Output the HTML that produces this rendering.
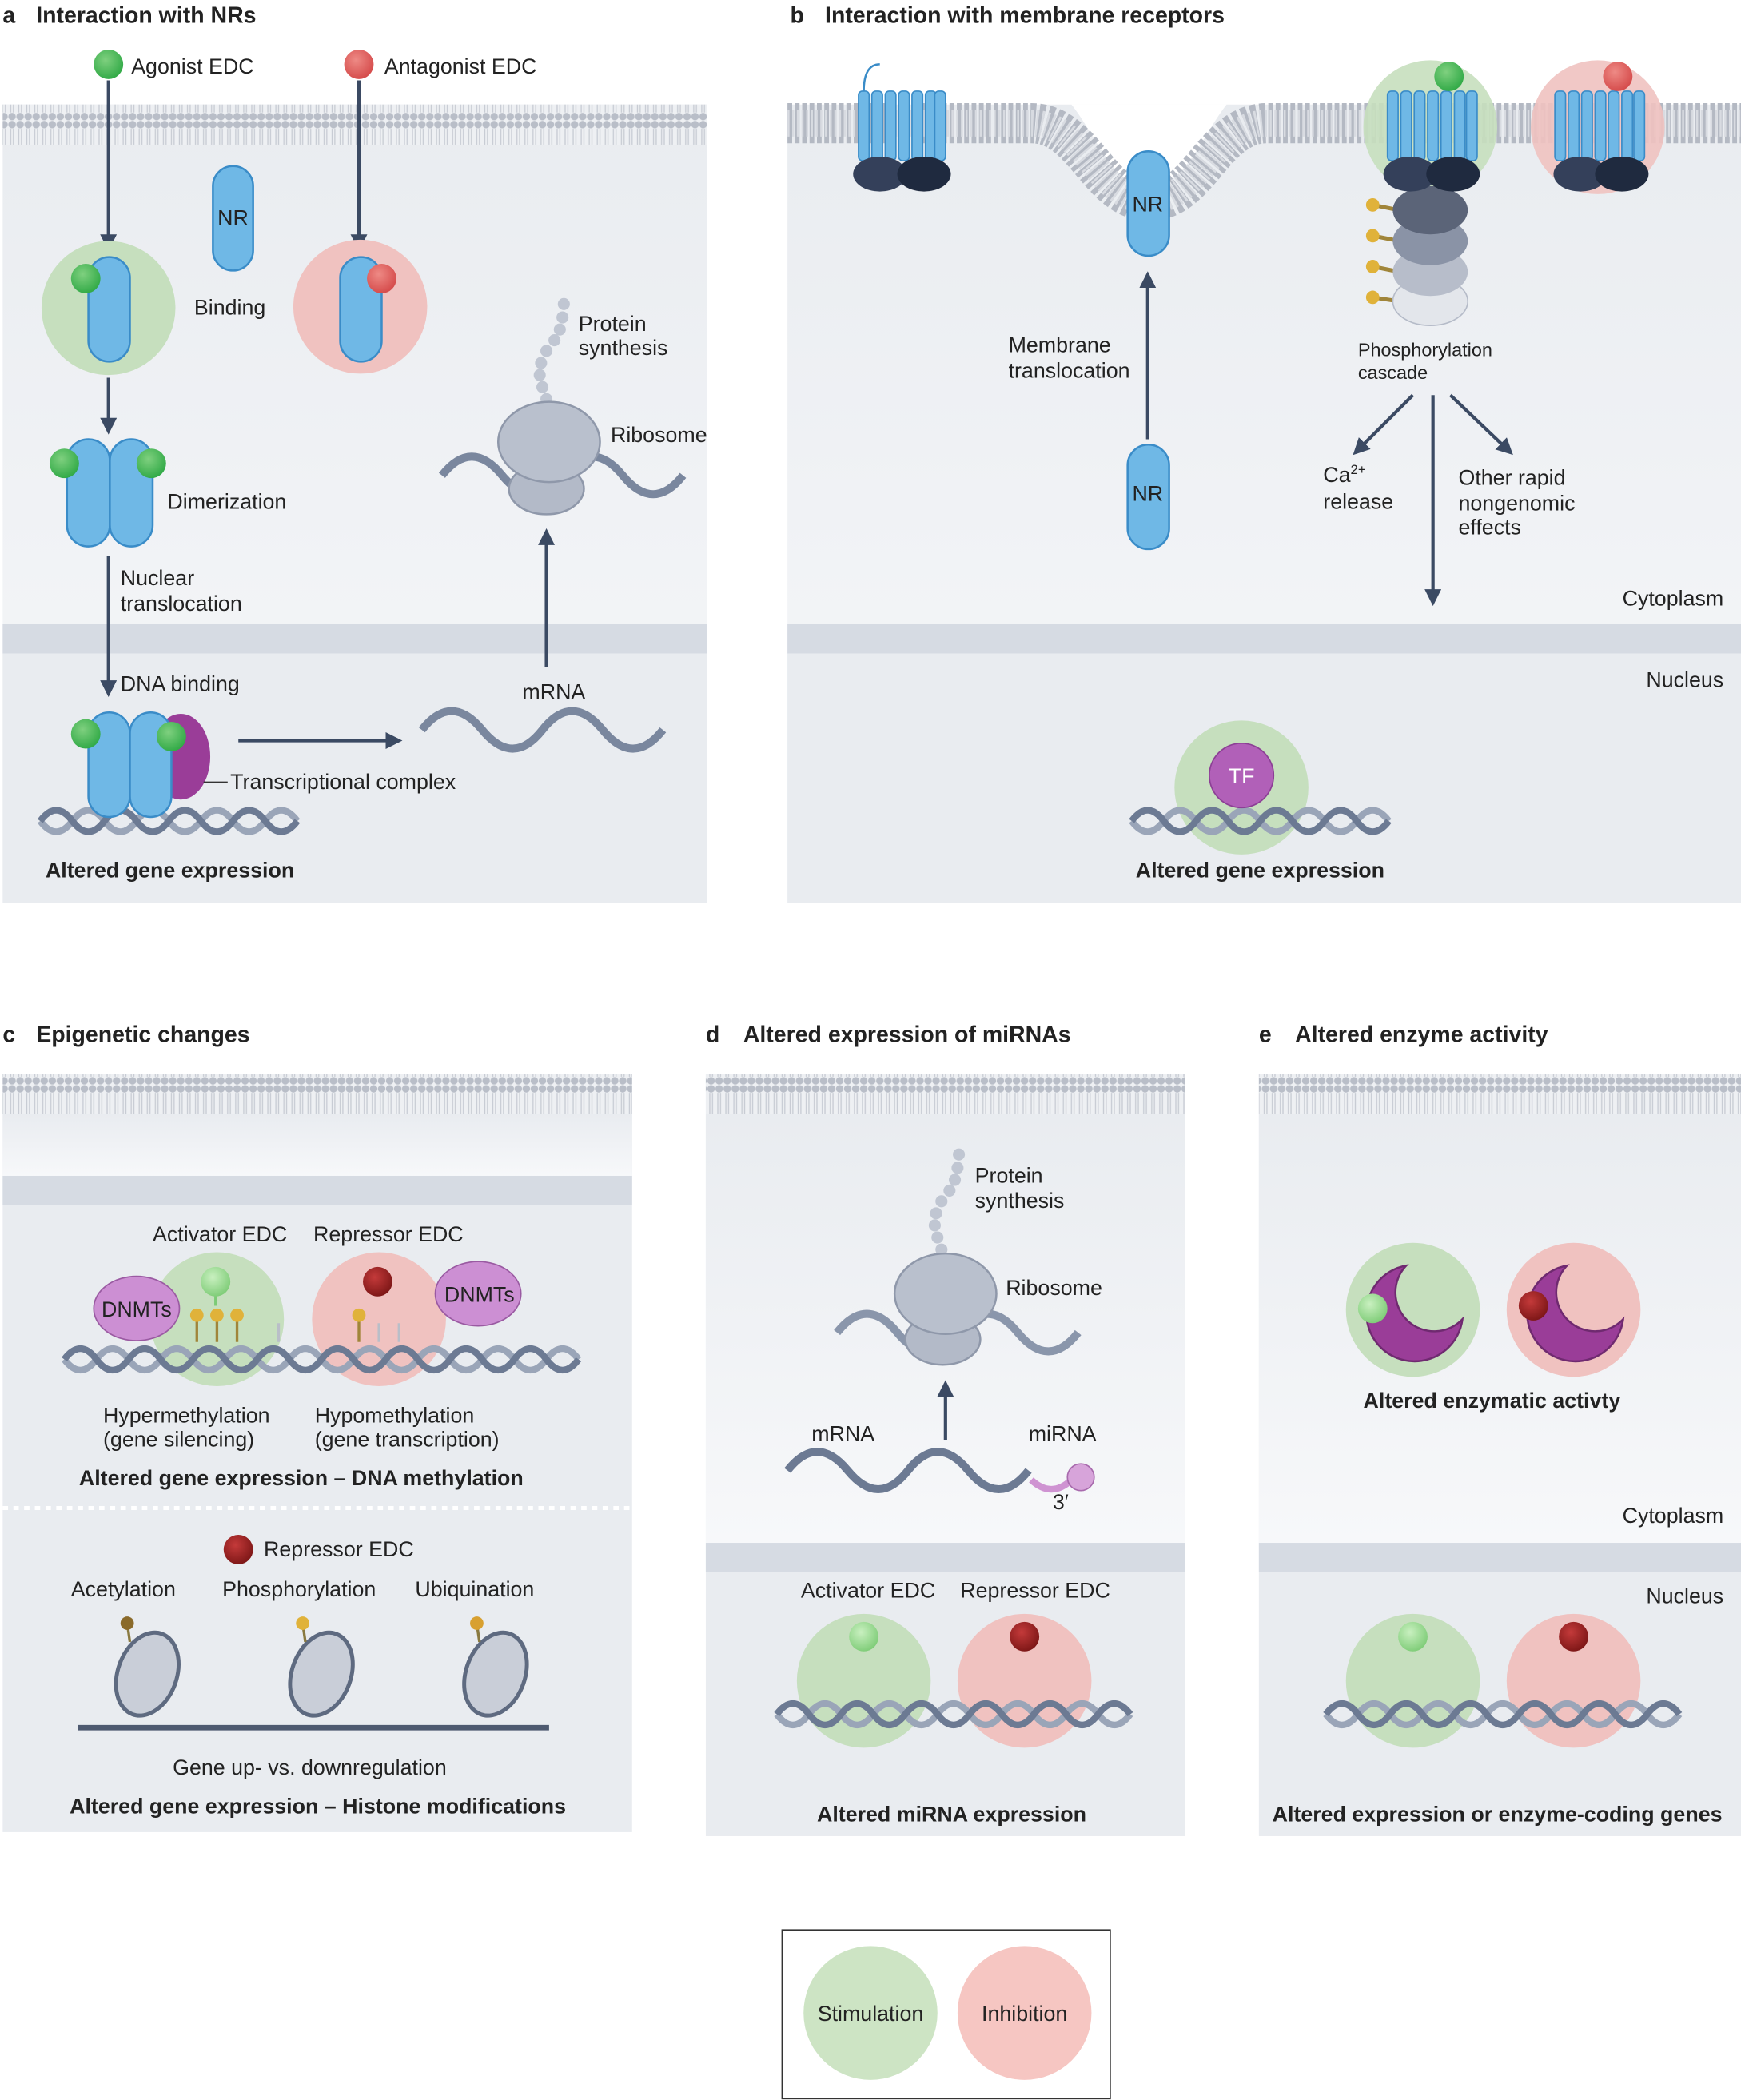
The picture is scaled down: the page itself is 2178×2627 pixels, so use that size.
<!DOCTYPE html>
<html><head><meta charset="utf-8"><style>
html,body{margin:0;padding:0;background:#fff}
svg{display:block}
text{font-family:"Liberation Sans",sans-serif;font-size:16px;fill:#222}
.b{font-weight:bold}
.t{font-size:17px;font-weight:bold}
.nr{fill:#6fb8e6;stroke:#3a8cc8;stroke-width:1.5}
.ar{stroke:#3b4a63;stroke-width:2.5;fill:none}
.s1{fill:none;stroke:#6c7a93;stroke-width:5}
.s2{fill:none;stroke:#9aa5b8;stroke-width:5}
</style></head><body>
<svg width="2178" height="2627" viewBox="0 0 1300 1568" xmlns="http://www.w3.org/2000/svg">
<defs>
<marker id="m" viewBox="0 0 10 10" refX="8" refY="5" markerWidth="5" markerHeight="5" orient="auto"><path d="M0,0L10,5L0,10z" fill="#3b4a63"/></marker>
<linearGradient id="cy" x1="0" y1="0" x2="0" y2="1"><stop offset="0" stop-color="#e9ecf0"/><stop offset="1" stop-color="#f7f8fa"/></linearGradient>
<radialGradient id="gb" cx=".4" cy=".35" r=".7"><stop offset="0" stop-color="#7fd07f"/><stop offset="1" stop-color="#2ea844"/></radialGradient>
<radialGradient id="rb" cx=".4" cy=".35" r=".7"><stop offset="0" stop-color="#ee8a85"/><stop offset="1" stop-color="#d44848"/></radialGradient>
<radialGradient id="lg" cx=".4" cy=".35" r=".7"><stop offset="0" stop-color="#c9f0c0"/><stop offset="1" stop-color="#7ccb75"/></radialGradient>
<radialGradient id="dr" cx=".4" cy=".35" r=".7"><stop offset="0" stop-color="#c43a3a"/><stop offset="1" stop-color="#7a1515"/></radialGradient>
<pattern id="mem" width="6" height="30" patternUnits="userSpaceOnUse"><rect width="6" height="30" fill="#eef0f3"/><circle cx="3" cy="3" r="2.8" fill="#b9bec8"/><circle cx="3" cy="27" r="2.8" fill="#b9bec8"/><path d="M2,6v18M4,6v18" stroke="#c8ccd4" stroke-width=".8"/></pattern>
</defs>

<!-- Panel a -->
<rect x="2" y="78" width="526" height="596" fill="url(#cy)"/>
<rect x="2" y="466" width="526" height="22" fill="#d6dbe3"/>
<rect x="2" y="488" width="526" height="186" fill="#e9ecf0"/>
<rect x="2" y="78" width="526" height="30" fill="url(#mem)"/>
<text x="2" y="17" class="t">a</text><text x="27" y="17" class="t">Interaction with NRs</text>
<circle cx="81" cy="48" r="11" fill="url(#gb)"/><text x="98" y="55">Agonist EDC</text>
<circle cx="268" cy="48" r="11" fill="url(#rb)"/><text x="287" y="55">Antagonist EDC</text>
<line x1="81" y1="60" x2="81" y2="185" class="ar" marker-end="url(#m)"/>
<line x1="268" y1="60" x2="268" y2="185" class="ar" marker-end="url(#m)"/>
<circle cx="81" cy="230" r="50" fill="#c6dfbe"/>
<rect x="66" y="192" width="31" height="78" rx="15.5" class="nr"/><circle cx="64" cy="208" r="11" fill="url(#gb)"/>
<rect x="159" y="124" width="30" height="78" rx="15" class="nr"/><text x="174" y="168" text-anchor="middle">NR</text>
<text x="145" y="235">Binding</text>
<circle cx="269" cy="229" r="50" fill="#f0c2c0"/>
<rect x="254" y="192" width="31" height="78" rx="15.5" class="nr"/><circle cx="285" cy="208" r="11" fill="url(#rb)"/>
<line x1="81" y1="282" x2="81" y2="322" class="ar" marker-end="url(#m)"/>
<rect x="50" y="328" width="32" height="80" rx="16" class="nr"/><rect x="82" y="328" width="32" height="80" rx="16" class="nr"/>
<circle cx="48" cy="346" r="11" fill="url(#gb)"/><circle cx="113" cy="346" r="11" fill="url(#gb)"/>
<text x="125" y="380">Dimerization</text>
<line x1="81" y1="415" x2="81" y2="518" class="ar" marker-end="url(#m)"/>
<text x="90" y="437">Nuclear</text><text x="90" y="456">translocation</text>
<text x="90" y="516">DNA binding</text>
<path class="s2" d="M30,613q12,16 24,0t24,0t24,0t24,0t24,0t24,0t24,0t24,0"/>
<path class="s1" d="M30,613q12,-16 24,0t24,0t24,0t24,0t24,0t24,0t24,0t24,0"/>
<ellipse cx="135" cy="565" rx="22" ry="32" fill="#9a3d98"/>
<rect x="66" y="532" width="31" height="78" rx="15.5" class="nr"/><rect x="97" y="532" width="31" height="78" rx="15.5" class="nr"/>
<circle cx="64" cy="548" r="11" fill="url(#gb)"/><circle cx="128" cy="550" r="11" fill="url(#gb)"/>
<line x1="152" y1="584" x2="170" y2="584" stroke="#333" stroke-width="1"/>
<text x="172" y="589">Transcriptional complex</text>
<line x1="178" y1="553" x2="298" y2="553" class="ar" marker-end="url(#m)"/>
<path d="M315,545q22,-28 45,0t45,0t45,0t45,0" fill="none" stroke="#7a879e" stroke-width="6"/>
<text x="390" y="522">mRNA</text>
<line x1="408" y1="498" x2="408" y2="397" class="ar" marker-end="url(#m)"/>
<path d="M330,355q22,-28 45,0t45,0t45,0t45,0" fill="none" stroke="#7a879e" stroke-width="6"/>
<g fill="#c0c6d2"><circle cx="421" cy="227" r="4.5"/><circle cx="420" cy="237" r="4.5"/><circle cx="418" cy="246" r="4.5"/><circle cx="414" cy="254" r="4.5"/><circle cx="408" cy="262" r="4.5"/><circle cx="404" cy="271" r="4.5"/><circle cx="403" cy="280" r="4.5"/><circle cx="405" cy="289" r="4.5"/><circle cx="408" cy="298" r="4.5"/><circle cx="410" cy="306" r="4.5"/></g>
<ellipse cx="408" cy="365" rx="28" ry="19" fill="#b3bac8" stroke="#8f98aa" stroke-width="1.5"/>
<ellipse cx="410" cy="330" rx="38" ry="30" fill="#b9c0cd" stroke="#8f98aa" stroke-width="1.5"/>
<text x="432" y="247">Protein</text><text x="432" y="265">synthesis</text>
<text x="456" y="330">Ribosome</text>
<text x="34" y="655" class="b">Altered gene expression</text>

<!-- Panel b -->
<rect x="588" y="78" width="712" height="596" fill="url(#cy)"/>
<path d="M588,60H770C810,60 820,140 858,140C896,140 906,60 946,60H1300V78H588z" fill="#fff"/>
<path d="M588,92H770C810,92 820,150 858,150C896,150 906,92 946,92H1300" fill="none" stroke="#b4b9c3" stroke-width="30" stroke-dasharray="3.5 2"/>
<path d="M588,92H770C810,92 820,150 858,150C896,150 906,92 946,92H1300" fill="none" stroke="#d8dbe1" stroke-width="20" stroke-dasharray="1.5 2"/>
<rect x="588" y="466" width="712" height="22" fill="#d6dbe3"/>
<rect x="588" y="488" width="712" height="186" fill="#e9ecf0"/>
<text x="590" y="17" class="t">b</text><text x="616" y="17" class="t">Interaction with membrane receptors</text>
<g fill="#6fb8e6" stroke="#3a8cc8" stroke-width="1">
<rect x="641" y="68" width="8" height="52" rx="3"/><rect x="651" y="68" width="8" height="52" rx="3"/><rect x="661" y="68" width="8" height="52" rx="3"/><rect x="671" y="68" width="8" height="52" rx="3"/><rect x="681" y="68" width="8" height="52" rx="3"/><rect x="691" y="68" width="8" height="52" rx="3"/><rect x="698" y="68" width="8" height="52" rx="3"/></g>
<path d="M645,68q0,-20 12,-20" fill="none" stroke="#3a8cc8" stroke-width="1.5"/>
<ellipse cx="657" cy="130" rx="20" ry="13" fill="#34405a"/><ellipse cx="690" cy="130" rx="20" ry="13" fill="#1f2a3f"/>
<rect x="842" y="113" width="31" height="78" rx="15.5" class="nr"/><text x="857" y="158" text-anchor="middle">NR</text>
<line x1="857" y1="328" x2="857" y2="205" class="ar" marker-end="url(#m)"/>
<text x="753" y="263">Membrane</text><text x="753" y="282">translocation</text>
<rect x="842" y="332" width="31" height="78" rx="15.5" class="nr"/><text x="857" y="374" text-anchor="middle">NR</text>
<circle cx="1068" cy="95" r="50" fill="#c6dfbe" opacity=".9"/>
<circle cx="1193" cy="95" r="50" fill="#f0c2c0" opacity=".9"/>
<g fill="#6fb8e6" stroke="#3a8cc8" stroke-width="1">
<rect x="1036" y="68" width="8" height="52" rx="3"/><rect x="1046" y="68" width="8" height="52" rx="3"/><rect x="1056" y="68" width="8" height="52" rx="3"/><rect x="1066" y="68" width="8" height="52" rx="3"/><rect x="1076" y="68" width="8" height="52" rx="3"/><rect x="1086" y="68" width="8" height="52" rx="3"/><rect x="1095" y="68" width="8" height="52" rx="3"/>
<rect x="1161" y="68" width="8" height="52" rx="3"/><rect x="1171" y="68" width="8" height="52" rx="3"/><rect x="1181" y="68" width="8" height="52" rx="3"/><rect x="1191" y="68" width="8" height="52" rx="3"/><rect x="1201" y="68" width="8" height="52" rx="3"/><rect x="1211" y="68" width="8" height="52" rx="3"/><rect x="1220" y="68" width="8" height="52" rx="3"/></g>
<circle cx="1082" cy="57" r="11" fill="url(#gb)"/><circle cx="1208" cy="57" r="11" fill="url(#rb)"/>
<g stroke="#a0853a" stroke-width="3"><line x1="1025" y1="153" x2="1045" y2="157"/><line x1="1025" y1="176" x2="1045" y2="180"/><line x1="1025" y1="199" x2="1045" y2="203"/><line x1="1025" y1="222" x2="1045" y2="225"/></g>
<g fill="#e0b23a"><circle cx="1025" cy="153" r="5"/><circle cx="1025" cy="176" r="5"/><circle cx="1025" cy="199" r="5"/><circle cx="1025" cy="222" r="5"/></g>
<ellipse cx="1068" cy="225" rx="28" ry="18" fill="#e3e6eb" stroke="#b5bbc8"/>
<ellipse cx="1068" cy="203" rx="28" ry="18" fill="#b7bdca"/>
<ellipse cx="1068" cy="180" rx="28" ry="18" fill="#8a93a6"/>
<ellipse cx="1068" cy="157" rx="28" ry="18" fill="#5b6478"/>
<ellipse cx="1053" cy="130" rx="20" ry="13" fill="#34405a"/><ellipse cx="1085" cy="130" rx="20" ry="13" fill="#1f2a3f"/>
<ellipse cx="1180" cy="130" rx="20" ry="13" fill="#34405a"/><ellipse cx="1211" cy="130" rx="20" ry="13" fill="#1f2a3f"/>
<text x="1014" y="266" style="font-size:14px">Phosphorylation</text><text x="1014" y="283" style="font-size:14px">cascade</text>
<line x1="1055" y1="295" x2="1012" y2="338" class="ar" marker-end="url(#m)"/>
<line x1="1070" y1="295" x2="1070" y2="450" class="ar" marker-end="url(#m)"/>
<line x1="1083" y1="295" x2="1128" y2="338" class="ar" marker-end="url(#m)"/>
<text x="988" y="360">Ca<tspan dy="-6" style="font-size:10px">2+</tspan></text><text x="988" y="380">release</text>
<text x="1089" y="362">Other rapid</text><text x="1089" y="381">nongenomic</text><text x="1089" y="399">effects</text>
<text x="1287" y="452" text-anchor="end">Cytoplasm</text>
<text x="1287" y="513" text-anchor="end">Nucleus</text>
<circle cx="927" cy="588" r="50" fill="#c6dfbe"/>
<path class="s2" d="M845,613q12,16 24,0t24,0t24,0t24,0t24,0t24,0t24,0t24,0"/>
<path class="s1" d="M845,613q12,-16 24,0t24,0t24,0t24,0t24,0t24,0t24,0t24,0"/>
<circle cx="927" cy="579" r="24" fill="#b160b8" stroke="#8c3f95"/><text x="927" y="585" text-anchor="middle" style="fill:#fff">TF</text>
<text x="848" y="655" class="b">Altered gene expression</text>

<!-- Panel c -->
<rect x="2" y="802" width="470" height="566" fill="#e9ecf0"/>
<rect x="2" y="832" width="470" height="46" fill="url(#cy)"/>
<rect x="2" y="878" width="470" height="22" fill="#d6dbe3"/>
<rect x="2" y="802" width="470" height="30" fill="url(#mem)"/>
<text x="2" y="778" class="t">c</text><text x="27" y="778" class="t">Epigenetic changes</text>
<text x="114" y="927">Activator EDC</text><text x="234" y="927">Repressor EDC</text>
<circle cx="162" cy="985" r="50" fill="#c6dfbe"/><circle cx="283" cy="985" r="50" fill="#f0c2c0"/>
<line x1="161" y1="957" x2="161" y2="975" stroke="#7ccb75" stroke-width="2"/>
<circle cx="161" cy="957" r="11" fill="url(#lg)"/><circle cx="282" cy="957" r="11" fill="url(#dr)"/>
<path class="s2" d="M48,1015q12,16 24,0t24,0t24,0t24,0t24,0t24,0t24,0t24,0t24,0t24,0t24,0t24,0t24,0t24,0t24,0t24,0"/>
<path class="s1" d="M48,1015q12,-16 24,0t24,0t24,0t24,0t24,0t24,0t24,0t24,0t24,0t24,0t24,0t24,0t24,0t24,0t24,0t24,0"/>
<g stroke="#a0853a" stroke-width="2"><line x1="147" y1="982" x2="147" y2="1002"/><line x1="162" y1="982" x2="162" y2="1002"/><line x1="177" y1="982" x2="177" y2="1002"/><line x1="268" y1="982" x2="268" y2="1002"/></g>
<g stroke="#b9bec8" stroke-width="2"><line x1="208" y1="988" x2="208" y2="1002"/><line x1="283" y1="988" x2="283" y2="1002"/><line x1="298" y1="988" x2="298" y2="1002"/></g>
<g fill="#e0b23a"><circle cx="147" cy="982" r="5"/><circle cx="162" cy="982" r="5"/><circle cx="177" cy="982" r="5"/><circle cx="268" cy="982" r="5"/></g>
<ellipse cx="102" cy="977" rx="32" ry="24" fill="#cc8fd3" stroke="#9a5aa2"/><text x="102" y="983" text-anchor="middle">DNMTs</text>
<ellipse cx="357" cy="966" rx="32" ry="24" fill="#cc8fd3" stroke="#9a5aa2"/><text x="358" y="972" text-anchor="middle">DNMTs</text>
<text x="77" y="1062">Hypermethylation</text><text x="77" y="1080">(gene silencing)</text>
<text x="235" y="1062">Hypomethylation</text><text x="235" y="1080">(gene transcription)</text>
<text x="59" y="1109" class="b">Altered gene expression – DNA methylation</text>
<line x1="2" y1="1126" x2="472" y2="1126" stroke="#fff" stroke-width="3" stroke-dasharray="4 4"/>
<circle cx="178" cy="1157" r="11" fill="url(#dr)"/><text x="197" y="1162">Repressor EDC</text>
<text x="53" y="1192">Acetylation</text><text x="166" y="1192">Phosphorylation</text><text x="310" y="1192">Ubiquination</text>
<line x1="58" y1="1290" x2="410" y2="1290" stroke="#4e5a70" stroke-width="4"/>
<g fill="#c9ced8" stroke="#5e6a80" stroke-width="3">
<ellipse cx="110" cy="1250" rx="22" ry="32" transform="rotate(20 110 1250)"/>
<ellipse cx="240" cy="1250" rx="22" ry="32" transform="rotate(20 240 1250)"/>
<ellipse cx="370" cy="1250" rx="22" ry="32" transform="rotate(20 370 1250)"/></g>
<g stroke="#8a7a40" stroke-width="2"><line x1="95" y1="1212" x2="97" y2="1226"/><line x1="226" y1="1212" x2="228" y2="1226"/><line x1="356" y1="1212" x2="358" y2="1226"/></g>
<circle cx="95" cy="1212" r="5" fill="#8a6a2a"/><circle cx="226" cy="1212" r="5" fill="#e0b23a"/><circle cx="356" cy="1212" r="5" fill="#d8a030"/>
<text x="129" y="1325">Gene up- vs. downregulation</text>
<text x="52" y="1354" class="b">Altered gene expression – Histone modifications</text>

<!-- Panel d -->
<rect x="527" y="802" width="358" height="569" fill="#e9ecf0"/>
<rect x="527" y="832" width="358" height="320" fill="url(#cy)"/>
<rect x="527" y="1152" width="358" height="22" fill="#d6dbe3"/>
<rect x="527" y="802" width="358" height="30" fill="url(#mem)"/>
<text x="527" y="778" class="t">d</text><text x="555" y="778" class="t">Altered expression of miRNAs</text>
<path d="M625,995q22,-28 45,0t45,0t45,0t45,0" fill="none" stroke="#8a96ab" stroke-width="6"/>
<g fill="#c0c6d2"><circle cx="716" cy="862" r="4.5"/><circle cx="715" cy="872" r="4.5"/><circle cx="713" cy="881" r="4.5"/><circle cx="709" cy="889" r="4.5"/><circle cx="703" cy="897" r="4.5"/><circle cx="699" cy="906" r="4.5"/><circle cx="698" cy="915" r="4.5"/><circle cx="700" cy="924" r="4.5"/><circle cx="703" cy="933" r="4.5"/><circle cx="705" cy="941" r="4.5"/></g>
<ellipse cx="704" cy="1000" rx="28" ry="19" fill="#b3bac8" stroke="#8f98aa" stroke-width="1.5"/>
<ellipse cx="706" cy="966" rx="38" ry="30" fill="#b9c0cd" stroke="#8f98aa" stroke-width="1.5"/>
<text x="728" y="883">Protein</text><text x="728" y="902">synthesis</text>
<text x="751" y="967">Ribosome</text>
<line x1="706" y1="1075" x2="706" y2="1033" class="ar" marker-end="url(#m)"/>
<text x="606" y="1076">mRNA</text><text x="768" y="1076">miRNA</text>
<path d="M588,1098q22,-28 45,0t45,0t45,0t45,0" fill="none" stroke="#6c7a93" stroke-width="6"/>
<path d="M770,1105q15,14 30,0" fill="none" stroke="#cf93d2" stroke-width="5"/>
<circle cx="807" cy="1103" r="10" fill="#d7a4da" stroke="#a86aad"/>
<text x="786" y="1127">3′</text>
<text x="598" y="1193">Activator EDC</text><text x="717" y="1193">Repressor EDC</text>
<circle cx="645" cy="1255" r="50" fill="#c6dfbe"/><circle cx="765" cy="1255" r="50" fill="#f0c2c0"/>
<circle cx="645" cy="1222" r="11" fill="url(#lg)"/><circle cx="765" cy="1222" r="11" fill="url(#dr)"/>
<path class="s2" d="M580,1280q12,16 24,0t24,0t24,0t24,0t24,0t24,0t24,0t24,0t24,0t24,0t24,0"/>
<path class="s1" d="M580,1280q12,-16 24,0t24,0t24,0t24,0t24,0t24,0t24,0t24,0t24,0t24,0t24,0"/>
<text x="610" y="1360" class="b">Altered miRNA expression</text>

<!-- Panel e -->
<rect x="940" y="802" width="360" height="569" fill="#e9ecf0"/>
<rect x="940" y="832" width="360" height="320" fill="url(#cy)"/>
<rect x="940" y="1152" width="360" height="22" fill="#d6dbe3"/>
<rect x="940" y="802" width="360" height="30" fill="url(#mem)"/>
<text x="940" y="778" class="t">e</text><text x="967" y="778" class="t">Altered enzyme activity</text>
<circle cx="1055" cy="978" r="50" fill="#c6dfbe"/><circle cx="1175" cy="978" r="50" fill="#f0c2c0"/>
<path d="M1050,945A36,36 0 1 0 1092,985A26,26 0 1 1 1050,945z" fill="#9a3d98" stroke="#6f2a70" stroke-width="1.5"/>
<path d="M1170,945A36,36 0 1 0 1212,985A26,26 0 1 1 1170,945z" fill="#9a3d98" stroke="#6f2a70" stroke-width="1.5"/>
<circle cx="1025" cy="977" r="11" fill="url(#lg)"/><circle cx="1145" cy="975" r="11" fill="url(#dr)"/>
<text x="1018" y="1051" class="b">Altered enzymatic activty</text>
<text x="1287" y="1137" text-anchor="end">Cytoplasm</text>
<text x="1287" y="1197" text-anchor="end">Nucleus</text>
<circle cx="1055" cy="1255" r="50" fill="#c6dfbe"/><circle cx="1175" cy="1255" r="50" fill="#f0c2c0"/>
<circle cx="1055" cy="1222" r="11" fill="url(#lg)"/><circle cx="1175" cy="1222" r="11" fill="url(#dr)"/>
<path class="s2" d="M990,1280q12,16 24,0t24,0t24,0t24,0t24,0t24,0t24,0t24,0t24,0t24,0t24,0"/>
<path class="s1" d="M990,1280q12,-16 24,0t24,0t24,0t24,0t24,0t24,0t24,0t24,0t24,0t24,0t24,0"/>
<text x="950" y="1360" class="b">Altered expression or enzyme-coding genes</text>

<!-- Legend -->
<rect x="584" y="1441" width="245" height="126" fill="#fff" stroke="#333" stroke-width="1"/>
<circle cx="650" cy="1503" r="50" fill="#cde4c4"/><circle cx="765" cy="1503" r="50" fill="#f6c6c2"/>
<text x="650" y="1509" text-anchor="middle">Stimulation</text><text x="765" y="1509" text-anchor="middle">Inhibition</text>
</svg>
</body></html>
